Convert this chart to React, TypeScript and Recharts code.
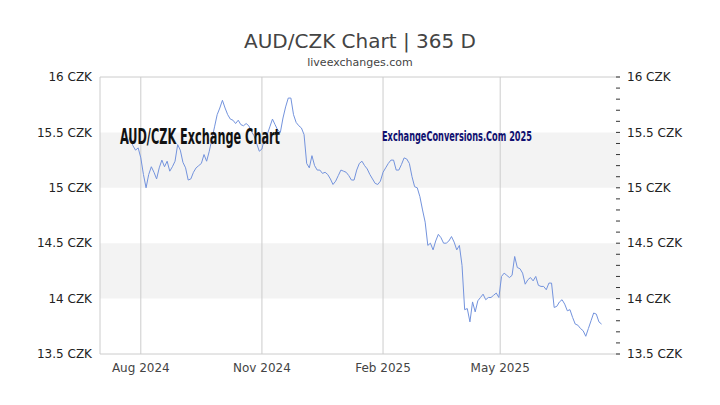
import React from 'react';
import {
  LineChart,
  Line,
  XAxis,
  YAxis,
  ReferenceArea,
  ReferenceLine
} from 'recharts';

// daily-ish AUD/CZK closes, one reading every 2 days starting 2024-07-18
const seriesStart = '2024-07-18';
const stepDays = 2;
const rates = [
  15.42, 15.45, 15.40, 15.46, 15.38, 15.34, 15.36, 15.27, 15.12, 15.00,
  15.12, 15.19, 15.14, 15.08, 15.18, 15.25, 15.19, 15.24, 15.15, 15.19,
  15.24, 15.39, 15.34, 15.23, 15.18, 15.07, 15.08, 15.14, 15.18, 15.20,
  15.22, 15.30, 15.24, 15.33, 15.44, 15.55, 15.66, 15.72, 15.79, 15.72,
  15.66, 15.62, 15.61, 15.58, 15.61, 15.57, 15.56, 15.58, 15.56, 15.51,
  15.47, 15.40, 15.33, 15.35, 15.45, 15.48, 15.55, 15.62, 15.57, 15.52,
  15.50, 15.63, 15.73, 15.81, 15.81, 15.66, 15.59, 15.56, 15.54, 15.48,
  15.22, 15.18, 15.29, 15.20, 15.16, 15.16, 15.13, 15.14, 15.12, 15.08,
  15.03, 15.06, 15.11, 15.16, 15.15, 15.14, 15.11, 15.07, 15.07, 15.16,
  15.22, 15.24, 15.20, 15.17, 15.12, 15.08, 15.04, 15.03, 15.06, 15.14,
  15.18, 15.22, 15.25, 15.25, 15.16, 15.16, 15.21, 15.27, 15.26, 15.22,
  15.10, 15.01, 15.00, 14.92, 14.80, 14.69, 14.48, 14.50, 14.44, 14.52,
  14.58, 14.55, 14.50, 14.50, 14.52, 14.56, 14.51, 14.44, 14.48, 14.30,
  13.90, 13.91, 13.79, 13.97, 13.88, 13.98, 14.01, 14.04, 13.99, 14.01,
  14.01, 14.03, 14.05, 14.01, 14.20, 14.23, 14.21, 14.19, 14.21, 14.38,
  14.28, 14.27, 14.23, 14.13, 14.17, 14.19, 14.16, 14.20, 14.12, 14.11,
  14.11, 14.08, 14.14, 14.14, 13.92, 13.93, 13.97, 13.99, 13.95, 13.89,
  13.90, 13.83, 13.77, 13.76, 13.73, 13.71, 13.66, 13.73, 13.80, 13.87,
  13.86, 13.79, 13.77
];

const domainStart = '2024-07-01';
const domainEnd = '2025-07-31';
const xTickDates = ['2024-08-01', '2024-11-01', '2025-02-01', '2025-05-01'];
const xTickLabels = ['Aug 2024', 'Nov 2024', 'Feb 2025', 'May 2025'];
const leftTicks = [13.5, 14, 14.5, 15, 15.5, 16];
const rightTicks = [
  13.5, 13.6, 13.7, 13.8, 13.9, 14, 14.1, 14.2, 14.3, 14.4, 14.5, 14.6, 14.7,
  14.8, 14.9, 15, 15.1, 15.2, 15.3, 15.4, 15.5, 15.6, 15.7, 15.8, 15.9, 16
];
const bands = [
  [14, 14.5],
  [15, 15.5]
];

const DAY = 86400000;
const ts = (d: string) => new Date(d + 'T00:00:00Z').getTime();

const chartData = rates.map((rate, i) => ({
  t: ts(seriesStart) + i * stepDays * DAY,
  rate
}));
const xTicks = xTickDates.map(ts);

const font = 'DejaVu Sans, Verdana, sans-serif';
const condensed = 'Liberation Sans Narrow, DejaVu Sans Condensed, sans-serif';

const RightTick = (props: any) => {
  const { x, y, payload } = props;
  const v = payload.value as number;
  const major = Math.abs(v * 2 - Math.round(v * 2)) < 1e-6;
  return (
    <g>
      <line x1={x - 11} x2={x - 7} y1={y} y2={y} stroke="#333" strokeWidth={1} />
      {major && (
        <text x={x} y={y} dy="0.355em" textAnchor="start" fontSize={12} fill="#222" fontFamily={font}>
          {`${v} CZK`}
        </text>
      )}
    </g>
  );
};

export default function App() {
  return (
    <div style={{ position: 'absolute', left: 0, top: 0, width: 720, height: 405, background: '#fff' }}>
      <LineChart
        width={720}
        height={405}
        data={chartData}
        margin={{ top: 77, right: 0, bottom: 0, left: 0 }}
      >
        {bands.map(([a, b]) => (
          <ReferenceArea key={a} yAxisId="left" y1={a} y2={b} fill="#f3f3f3" fillOpacity={1} stroke="none" />
        ))}
        {xTicks.map((t) => (
          <ReferenceLine key={t} yAxisId="left" x={t} stroke="#cccccc" />
        ))}
        <XAxis
          dataKey="t"
          type="number"
          scale="time"
          domain={[ts(domainStart), ts(domainEnd)]}
          ticks={xTicks}
          tickFormatter={(v) => xTickLabels[xTicks.indexOf(v)]}
          height={51}
          tickLine={false}
          tickSize={0}
          tickMargin={9}
          axisLine={{ stroke: '#cccccc' }}
          tick={{ fill: '#444', fontSize: 12, fontFamily: font }}
        />
        <YAxis
          yAxisId="left"
          orientation="left"
          width={100}
          domain={[13.5, 16]}
          ticks={leftTicks}
          interval={0}
          tickFormatter={(v) => `${v} CZK`}
          tickLine={false}
          tickSize={0}
          tickMargin={8}
          axisLine={{ stroke: '#cccccc' }}
          tick={{ fill: '#222', fontSize: 12, fontFamily: font }}
        />
        <YAxis
          yAxisId="right"
          orientation="right"
          width={100}
          domain={[13.5, 16]}
          ticks={rightTicks}
          interval={0}
          tickLine={false}
          tickSize={0}
          tickMargin={7}
          axisLine={false}
          tick={(p: any) => <RightTick {...p} />}
        />
        <ReferenceLine yAxisId="left" y={16} stroke="#cccccc" />
        <Line
          yAxisId="right"
          type="linear"
          dataKey="rate"
          stroke="none"
          dot={false}
          legendType="none"
          isAnimationActive={false}
        />
        <Line
          yAxisId="left"
          type="linear"
          dataKey="rate"
          stroke="#7393dd"
          strokeWidth={1}
          dot={false}
          isAnimationActive={false}
        />
      </LineChart>
      <svg
        width={720}
        height={405}
        style={{ position: 'absolute', left: 0, top: 0, pointerEvents: 'none' }}
      >
        <text x={360} y={48} textAnchor="middle" fontSize={20} fill="#444" fontFamily={font}>
          AUD/CZK Chart | 365 D
        </text>
        <text x={360} y={66} textAnchor="middle" fontSize={11} fill="#444" fontFamily={font}>
          liveexchanges.com
        </text>
        <text
          x={120}
          y={144}
          fontSize={21}
          fontWeight="bold"
          fill="#111"
          fontFamily={condensed}
          textLength={160}
          lengthAdjust="spacingAndGlyphs"
        >
          AUD/CZK Exchange Chart
        </text>
        <text
          x={382}
          y={141}
          fontSize={14}
          fontWeight="bold"
          fill="#101070"
          fontFamily={condensed}
          textLength={150}
          lengthAdjust="spacingAndGlyphs"
        >
          ExchangeConversions.Com 2025
        </text>
      </svg>
    </div>
  );
}
